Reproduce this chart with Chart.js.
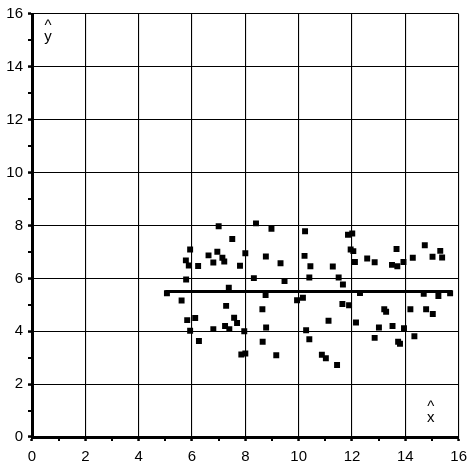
<!DOCTYPE html>
<html lang="en">

<head>
    <meta http-equiv="Content-Type" content="text/html; charset=UTF-8">
    <meta name="viewport" content="width=device-width, initial-scale=1">
    <title>scatter</title>
    <style>
        html, body { margin: 0; padding: 0; background: #fff; }
        #wrap { width: 474px; height: 474px; }
    </style>
</head>

<body>
    <div id="wrap">
        <canvas id="myChart" width="474" height="474"></canvas>
    </div>

    <script src="https://cdn.jsdelivr.net/npm/chart.js@4.4.0/dist/chart.umd.min.js"></script>
    <script>
        // scatter points
        var xValues = [7.00, 8.40, 8.98, 10.24, 7.51, 5.93, 6.62, 6.95, 7.14, 7.21,
            6.80, 5.77, 5.88, 6.23, 8.00, 7.80, 8.77, 9.32, 10.22, 10.44,
            5.78, 8.32, 9.47, 10.40, 7.38, 5.06, 5.61, 8.76, 9.94, 10.16,
            7.28, 8.64, 5.82, 6.12, 7.58, 7.69, 7.24, 7.40, 5.93, 6.80,
            7.96, 8.78, 10.28, 6.26, 8.65, 10.40, 7.85, 8.00, 9.16, 11.85,
            12.01, 11.28, 11.95, 12.05, 12.11, 12.57, 12.85, 13.67, 13.50, 13.70,
            13.93, 14.28, 14.73, 15.02, 15.31, 15.38, 11.50, 11.66, 12.30, 14.69,
            15.24, 15.68, 11.64, 11.89, 13.21, 13.28, 14.19, 14.78, 15.03, 11.12,
            12.15, 13.01, 13.52, 13.95, 12.85, 14.34, 13.73, 13.80, 10.87, 11.02,
            11.44];
        var yValues = [7.97, 8.08, 7.88, 7.78, 7.49, 7.09, 6.87, 7.01, 6.78, 6.64,
            6.60, 6.68, 6.49, 6.47, 6.95, 6.48, 6.83, 6.57, 6.85, 6.46,
            5.96, 6.01, 5.90, 6.03, 5.65, 5.44, 5.16, 5.37, 5.17, 5.27,
            4.96, 4.83, 4.42, 4.50, 4.51, 4.31, 4.20, 4.08, 4.02, 4.08,
            4.00, 4.14, 4.04, 3.63, 3.60, 3.70, 3.12, 3.16, 3.09, 7.65,
            7.70, 6.45, 7.09, 7.03, 6.62, 6.75, 6.61, 7.11, 6.51, 6.46,
            6.62, 6.78, 7.25, 6.82, 7.04, 6.79, 6.03, 5.77, 5.45, 5.42,
            5.33, 5.44, 5.03, 4.98, 4.83, 4.74, 4.83, 4.83, 4.65, 4.40,
            4.33, 4.14, 4.20, 4.11, 3.75, 3.81, 3.60, 3.53, 3.11, 2.98,
            2.72];

        // horizontal mean line
        var lineX = [5.0, 15.75];
        var lineY = [5.5, 5.5];

        var axisMin = 0;
        var axisMax = 16;
        var yAxisName = 'y';
        var xAxisName = 'x';

        var fontFamily = '"Liberation Sans", Arial, Helvetica, sans-serif';

        var points = xValues.map((x, i) => ({ x: x, y: yValues[i] }));
        var linePoints = lineX.map((x, i) => ({ x: x, y: lineY[i] }));

        function evenOnly(value) {
            return value % 2 === 0 ? String(value) : '';
        }

        // axis names with a hat drawn over the letter
        var hatLabels = {
            id: 'hatLabels',
            afterDraw(chart) {
                var ctx = chart.ctx;
                var xs = chart.scales.x;
                var ys = chart.scales.y;
                ctx.save();
                ctx.fillStyle = '#000';
                ctx.textAlign = 'center';
                ctx.textBaseline = 'middle';
                ctx.font = '15px ' + fontFamily;

                var px = xs.getPixelForValue(0.6);
                var py = ys.getPixelForValue(15.15);
                ctx.fillText(yAxisName, px, py);
                ctx.fillText('^', px, py - 11);

                px = xs.getPixelForValue(14.95);
                py = ys.getPixelForValue(0.72);
                ctx.fillText(xAxisName, px, py);
                ctx.fillText('^', px, py - 11);
                ctx.restore();
            }
        };

        function scaleOptions(isX) {
            return {
                type: 'linear',
                min: axisMin,
                max: axisMax,
                afterFit: function (scale) {
                    if (isX) scale.height = 37;
                    else scale.width = 32;
                },
                ticks: {
                    stepSize: 1,
                    autoSkip: false,
                    maxRotation: 0,
                    color: '#000',
                    padding: isX ? 7 : 5,
                    font: { family: fontFamily, size: 15 },
                    callback: evenOnly
                },
                grid: {
                    color: '#000',
                    lineWidth: c => (c.tick && c.tick.value % 2 !== 0) ? 0 : 1.1,
                    drawTicks: true,
                    tickLength: 4,
                    tickWidth: c => (c.tick && c.tick.value % 2 !== 0) ? 2 : 2.5,
                    tickColor: '#000'
                },
                border: { display: true, color: '#000', width: 3 }
            };
        }

        var ctx = document.getElementById('myChart');
        var myChart = new Chart(ctx, {
            type: 'scatter',
            data: {
                datasets: [{
                    type: 'line',
                    data: linePoints,
                    borderColor: '#000',
                    borderWidth: 3,
                    pointRadius: 0,
                    fill: false
                }, {
                    data: points,
                    pointStyle: 'rect',
                    pointRadius: 4.2,
                    pointBorderWidth: 0,
                    backgroundColor: '#000',
                    borderColor: '#000'
                }]
            },
            options: {
                responsive: false,
                animation: false,
                layout: { padding: { top: 8, right: 14, left: 0, bottom: 0 } },
                plugins: {
                    legend: { display: false },
                    tooltip: { enabled: false }
                },
                scales: {
                    x: scaleOptions(true),
                    y: scaleOptions(false)
                }
            },
            plugins: [hatLabels]
        });
    </script>

</body>

</html>
